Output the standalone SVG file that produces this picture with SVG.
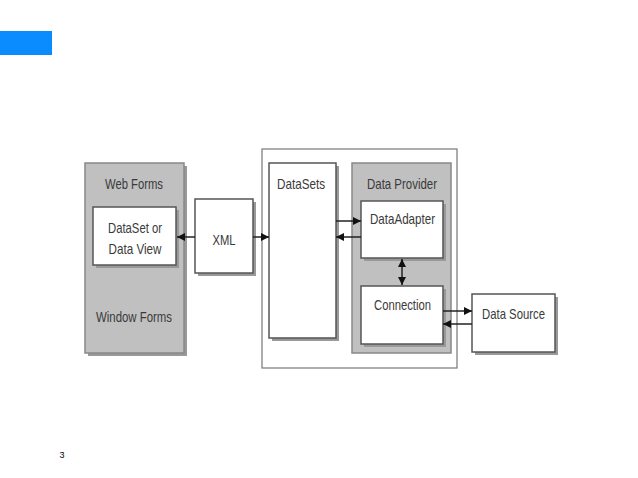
<svg xmlns="http://www.w3.org/2000/svg" width="638" height="478" viewBox="0 0 638 478">
<style>
text{font-family:"Liberation Sans",Arial,sans-serif;font-size:15px;fill:#3a3a3a;text-anchor:middle}
.g{fill:#c0c0c0;stroke:#888;stroke-width:1.5}
.w{fill:#fff;stroke:#555;stroke-width:1.5}
.sh{fill:#999}
.c{stroke:#222;stroke-width:1.5;fill:none}
</style>
<defs>
<marker id="ah" viewBox="0 0 10 10" refX="10" refY="5" markerWidth="8" markerHeight="8" markerUnits="userSpaceOnUse" orient="auto-start-reverse">
<path d="M0,0 L10,5 L0,10 z" fill="#111"/>
</marker>
</defs>
<rect x="0" y="31" width="52" height="24" fill="#0a8cff"/>
<g id="container"><rect x="262" y="149" width="195" height="219" fill="#fff" stroke="#777" stroke-width="1.2"/></g>
<g id="webforms">
<rect x="88" y="166" width="99" height="190" class="sh"/>
<rect x="85" y="163" width="99" height="190" class="g"/>
<text x="134" y="189" textLength="58" lengthAdjust="spacingAndGlyphs">Web Forms</text>
<text x="134" y="322" textLength="76" lengthAdjust="spacingAndGlyphs">Window Forms</text>
</g>
<g id="dataset">
<rect x="96" y="210" width="83" height="58" class="sh"/>
<rect x="93" y="207" width="83" height="58" class="w"/>
<text x="135" y="233" textLength="54" lengthAdjust="spacingAndGlyphs">DataSet or</text>
<text x="135" y="254" textLength="53" lengthAdjust="spacingAndGlyphs">Data View</text>
</g>
<g id="xml">
<rect x="198" y="202" width="58" height="74" class="sh"/>
<rect x="195" y="199" width="58" height="74" class="w"/>
<text x="224" y="245" textLength="23" lengthAdjust="spacingAndGlyphs">XML</text>
</g>
<g id="datasets">
<rect x="272" y="166" width="67" height="175" class="sh"/>
<rect x="269" y="163" width="67" height="175" class="w"/>
<text x="301" y="189" textLength="48" lengthAdjust="spacingAndGlyphs">DataSets</text>
</g>
<g id="dataprovider">
<rect x="352" y="163" width="99" height="190" class="g"/>
<text x="402" y="189" textLength="70" lengthAdjust="spacingAndGlyphs">Data Provider</text>
</g>
<g id="dataadapter">
<rect x="364" y="204" width="82" height="57" class="sh"/>
<rect x="361" y="201" width="82" height="57" class="w"/>
<text x="402.5" y="224" textLength="65" lengthAdjust="spacingAndGlyphs">DataAdapter</text>
</g>
<g id="connection">
<rect x="364" y="289" width="82" height="58" class="sh"/>
<rect x="361" y="286" width="82" height="58" class="w"/>
<text x="402.5" y="310" textLength="57" lengthAdjust="spacingAndGlyphs">Connection</text>
</g>
<g id="datasource">
<rect x="475" y="297" width="83" height="58" class="sh"/>
<rect x="472" y="294" width="83" height="58" class="w"/>
<text x="513.5" y="319" textLength="63" lengthAdjust="spacingAndGlyphs">Data Source</text>
</g>
<g id="connectors">
<line x1="195" y1="237" x2="177" y2="237" class="c" marker-end="url(#ah)"/>
<line x1="253" y1="237" x2="269" y2="237" class="c" marker-end="url(#ah)"/>
<line x1="336" y1="221" x2="361" y2="221" class="c" marker-end="url(#ah)"/>
<line x1="361" y1="237" x2="336" y2="237" class="c" marker-end="url(#ah)"/>
<line x1="402" y1="259" x2="402" y2="285" class="c" marker-start="url(#ah)" marker-end="url(#ah)"/>
<line x1="443" y1="311" x2="472" y2="311" class="c" marker-end="url(#ah)"/>
<line x1="472" y1="324" x2="443" y2="324" class="c" marker-end="url(#ah)"/>
</g>
<text x="62" y="458" style="font-size:9px;fill:#000">3</text>
</svg>
